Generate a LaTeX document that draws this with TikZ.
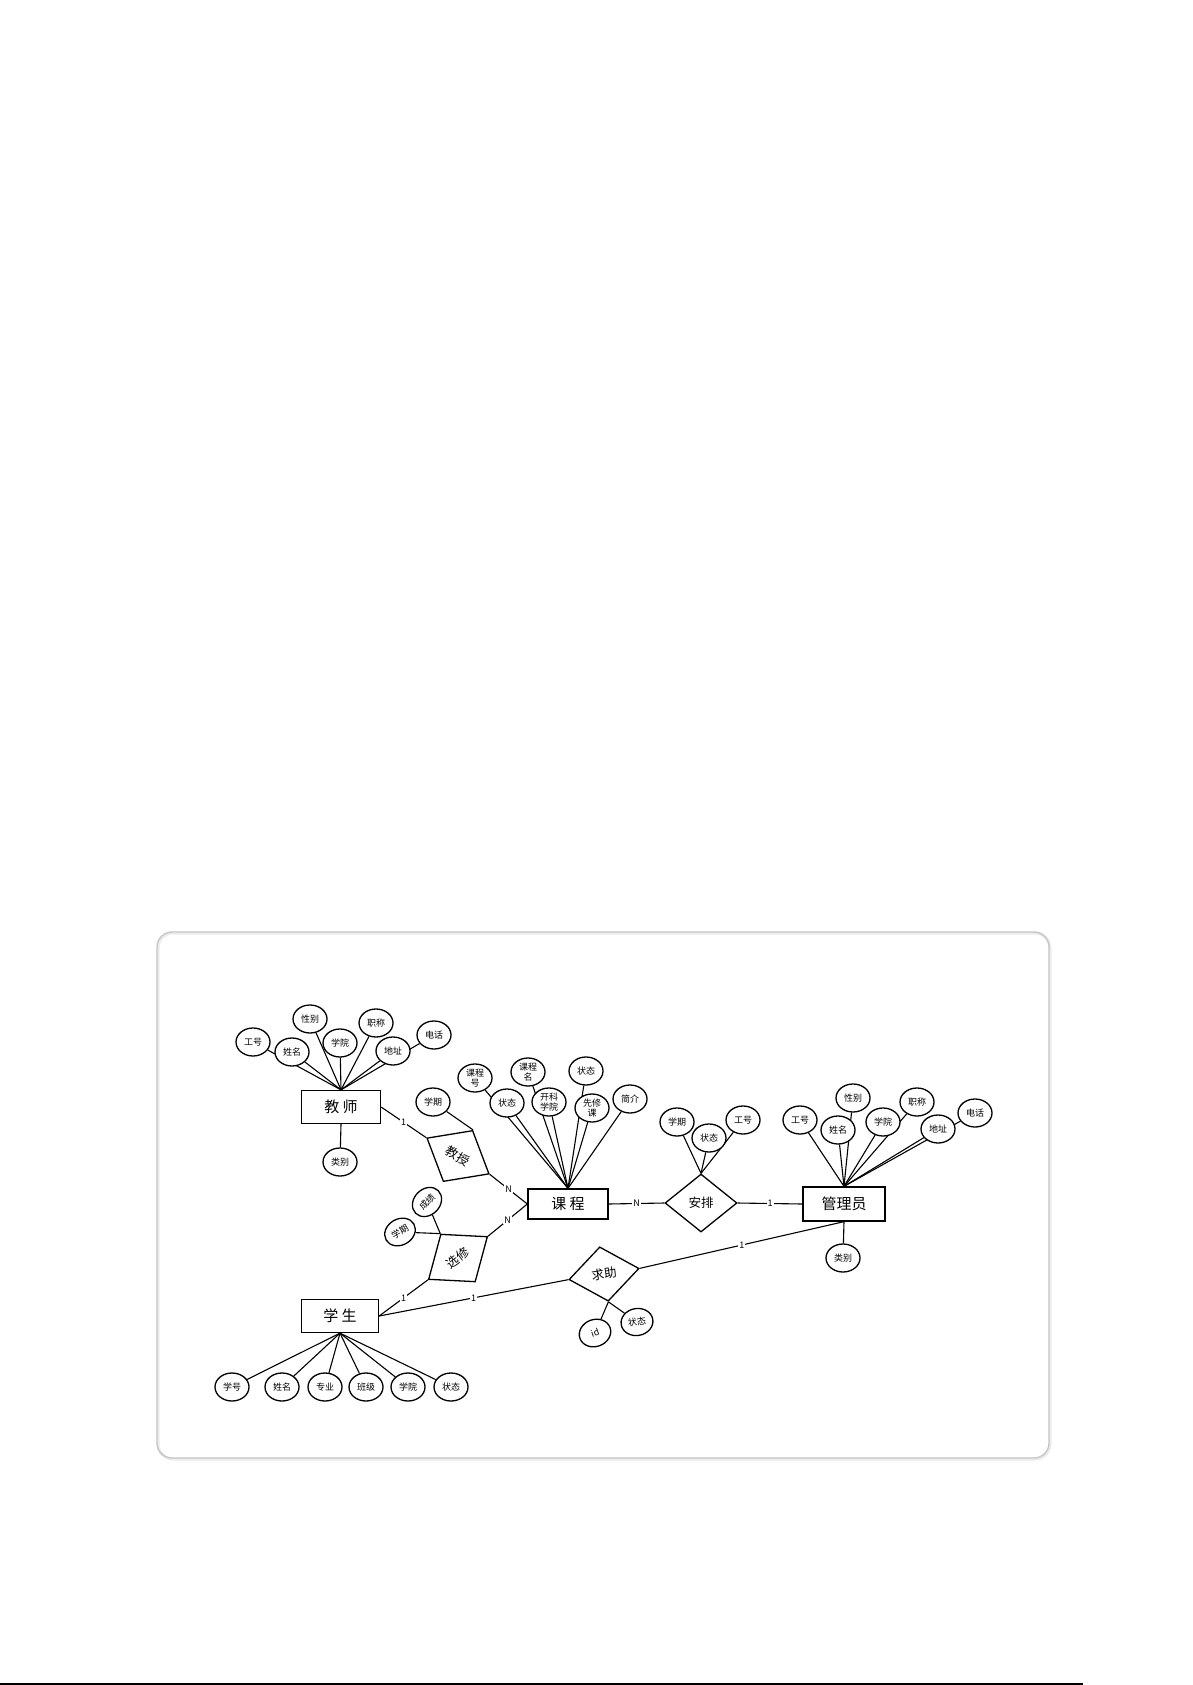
\documentclass[tikz,border=0pt]{standalone}
\usepackage{fontspec}
\newfontfamily\cjk{Noto Sans CJK SC}
\usetikzlibrary{shapes.geometric,backgrounds}

\begin{document}
\begin{tikzpicture}[x=1pt,y=-1pt,
    entity/.style={draw,line width=1.3pt,fill=white,minimum width=79pt,minimum height=33pt,font=\cjk\fontsize{15}{17}\selectfont},
    attr/.style={draw,ellipse,line width=1.3pt,fill=white,minimum width=34pt,minimum height=28pt,inner sep=0pt,align=center,font=\cjk\fontsize{9}{10}\selectfont},
    relation/.style={draw,diamond,line width=1.3pt,fill=white,inner sep=0pt,font=\cjk\fontsize{12.5}{14}\selectfont},
    card/.style={fill=white,inner sep=1pt,font=\cjk\fontsize{9}{10}\selectfont},
    link/.style={line width=1.1pt}]
    \useasboundingbox (0,0) rectangle (1192,1685);
    % Draw the frame
    \draw[black!8, line width=3pt, rounded corners=15pt] (158,933) rectangle (1050,1459);
    \draw[black!22, line width=1.4pt, rounded corners=15pt] (157,932) rectangle (1049,1458);
    \draw[line width=1.5pt] (0,1684) -- (1083,1684);

    % Teacher and its attributes
    \node[entity] (teacher) at (341,1107) {教 师};
    \node[attr] (tno) at (253,1042) {工号};
    \node[attr] (tsex) at (310,1019) {性别};
    \node[attr] (tname) at (292,1052) {姓名};
    \node[attr] (tcol) at (340,1043) {学院};
    \node[attr] (ttitle) at (376,1023) {职称};
    \node[attr] (taddr) at (393,1051) {地址};
    \node[attr] (ttel) at (434,1035) {电话};
    \node[attr] (ttype) at (340,1162) {类别};

    % Course and its attributes
    \node[entity, minimum width=80pt, minimum height=30pt] (course) at (568,1204) {课 程};
    \node[attr] (cno) at (475,1078) {课程\\号};
    \node[attr] (cname) at (528,1072) {课程\\名};
    \node[attr] (cstate) at (586,1071) {状态};
    \node[attr] (cstate2) at (507,1103) {状态};
    \node[attr] (ccol) at (549,1102) {开科\\学院};
    \node[attr] (cpre) at (592,1108) {先修\\课};
    \node[attr] (cintro) at (630,1099) {简介};

    % Admin and its attributes
    \node[entity, minimum width=82pt, minimum height=34pt] (admin) at (844,1204) {管理员};
    \node[attr] (ano) at (800,1120) {工号};
    \node[attr] (asex) at (853,1098) {性别};
    \node[attr] (aname) at (838,1130) {姓名};
    \node[attr] (acol) at (883,1122) {学院};
    \node[attr] (atitle) at (917,1102) {职称};
    \node[attr] (aaddr) at (938,1129) {地址};
    \node[attr] (atel) at (975,1113) {电话};
    \node[attr] (atype) at (843,1258) {类别};

    % Student and its attributes
    \node[entity, minimum width=77pt] (student) at (340,1316) {学 生};
    \node[attr] (sno) at (232,1387) {学号};
    \node[attr] (sname) at (282,1387) {姓名};
    \node[attr] (smajor) at (325,1387) {专业};
    \node[attr] (sclass) at (366,1387) {班级};
    \node[attr] (scol) at (408,1387) {学院};
    \node[attr] (sstate) at (451,1387) {状态};

    % Relations
    \node[relation, minimum width=72pt, minimum height=59pt, rotate=-30] (teach) at (458,1156) {教授};
    \node[attr] (tsem) at (433,1102) {学期};
    \node[relation, minimum width=73pt, minimum height=59pt, rotate=36] (select) at (458,1258) {选修};
    \node[attr, rotate=45, minimum width=32pt, minimum height=26pt] (score) at (427,1202) {成绩};
    \node[attr, rotate=30, minimum width=32pt, minimum height=26pt] (ssem) at (400,1232) {学期};
    \node[relation, minimum width=71pt, minimum height=55pt, rotate=9] (help) at (604,1274) {求助};
    \node[attr, rotate=20, minimum width=32pt, minimum height=27pt] (hid) at (595,1333) {id};
    \node[attr, rotate=10, minimum width=32pt, minimum height=27pt] (hstate) at (637,1322) {状态};
    \node[relation, minimum width=72pt, minimum height=58pt] (arrange) at (701,1203) {安排};
    \node[attr] (rsem) at (677,1122) {学期};
    \node[attr] (rstate) at (709,1138) {状态};
    \node[attr] (rno) at (743,1120) {工号};

    \begin{pgfonlayer}{background}
    % Attribute links
    \foreach \a in {tno,tsex,tname,tcol,ttitle,taddr,ttel}
        \draw[link] (\a) -- (teacher.north);
    \draw[link] (ttype) -- (teacher.south);
    \foreach \a in {cno,cname,cstate,cstate2,ccol,cpre,cintro}
        \draw[link] (\a) -- (course.north);
    \foreach \a in {ano,asex,aname,acol,atitle,aaddr,atel}
        \draw[link] (\a) -- (admin.north);
    \draw[link] (atype) -- (admin.south);
    \foreach \a in {sno,sname,smajor,sclass,scol,sstate}
        \draw[link] (\a) -- (student.south);
    \foreach \a in {rsem,rstate,rno}
        \draw[link] (\a) -- (arrange.north);
    \draw[link] (tsem) -- (teach.north);
    \draw[link] (score) -- (select.north);
    \draw[link] (ssem) -- (select.north);
    \draw[link] (hid) -- (help.south);
    \draw[link] (hstate) -- (help.south);
    % Relation links
    \draw[link] (teacher.east) -- node[card] {1} (teach.west);
    \draw[link] (teach.east) -- node[card] {N} (course.west);
    \draw[link] (course.west) -- node[card] {N} (select.east);
    \draw[link] (student.east) -- node[card] {1} (select.west);
    \draw[link] (student.east) -- node[card] {1} (help.west);
    \draw[link] (help.east) -- node[card] {1} (admin.south);
    \draw[link] (course.east) -- node[card] {N} (arrange.west);
    \draw[link] (arrange.east) -- node[card] {1} (admin.west);
    \end{pgfonlayer}
\end{tikzpicture}
\end{document}
